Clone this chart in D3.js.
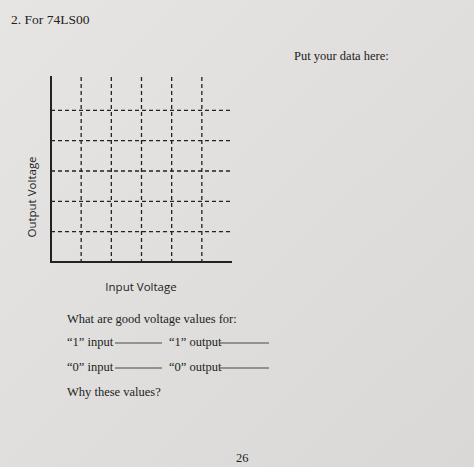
<!DOCTYPE html>
<html>
<head>
<meta charset="utf-8">
<script src="https://d3js.org/d3.v7.min.js"></script>
<style>body{margin:0;background:#e2e1df}</style>
</head>
<body>
<div id="page"></div>
<script>
// grid line positions (volts) on each axis
var xGrid = [1, 2, 3, 4, 5];
var yGrid = [1, 2, 3, 4, 5];
var xDomain = [0, 6];
var yDomain = [0, 6];

var width = 474, height = 467;
var svg = d3.select("#page").append("svg").attr("width", width).attr("height", height);

var grad = svg.append("defs").append("linearGradient").attr("id", "paper")
  .attr("x1", 0).attr("y1", 0).attr("x2", 1).attr("y2", 1);
grad.append("stop").attr("offset", "0").attr("stop-color", "#e6e5e3");
grad.append("stop").attr("offset", "1").attr("stop-color", "#d9d8d6");
svg.append("rect").attr("width", width).attr("height", height).attr("fill", "url(#paper)");

var x = d3.scaleLinear().domain(xDomain).range([51, 232]);
var y = d3.scaleLinear().domain(yDomain).range([262, 80]);

var ink = "#222";
// dashed grid
svg.selectAll(".vg").data(xGrid).enter().append("line")
  .attr("x1", d => x(d)).attr("x2", d => x(d))
  .attr("y1", 77).attr("y2", y(0))
  .attr("stroke", ink).attr("stroke-width", 1.3).attr("stroke-dasharray", "4,3");
svg.selectAll(".hg").data(yGrid).enter().append("line")
  .attr("x1", x(0)).attr("x2", x(6))
  .attr("y1", d => y(d)).attr("y2", d => y(d))
  .attr("stroke", ink).attr("stroke-width", 1.3).attr("stroke-dasharray", "4,3");
// axes
svg.append("path").attr("d", "M" + x(0) + ",76V" + y(0) + "H" + x(6))
  .attr("fill", "none").attr("stroke", ink).attr("stroke-width", 2);

svg.append("text").attr("x", 141).attr("y", 291).attr("text-anchor", "middle")
  .attr("font-family", "Open Sans").attr("font-size", 11.5).attr("fill", ink).text("Input Voltage");
svg.append("text").attr("transform", "translate(36,197) rotate(-90)").attr("text-anchor", "middle")
  .attr("font-family", "Open Sans").attr("font-size", 11.5).attr("fill", ink).text("Output Voltage");

var serif = "Liberation Serif";
function t(xp, yp, s, size) {
  svg.append("text").attr("x", xp).attr("y", yp).attr("font-family", serif)
    .attr("font-size", size || 12.5).attr("fill", ink).text(s);
}
t(11, 24, "2. For 74LS00", 13.5);
t(294, 60, "Put your data here:");
t(67, 323, "What are good voltage values for:");
t(67, 346, "\u201C1\u201D input");
t(169, 346, "\u201C1\u201D output");
t(67, 371, "\u201C0\u201D input");
t(169, 371, "\u201C0\u201D output");
t(67, 396, "Why these values?");
t(236, 462, "26");
[[115, 343, 162], [220, 343, 269], [115, 368, 162], [220, 368, 269]].forEach(function(l) {
  svg.append("line").attr("x1", l[0]).attr("x2", l[2]).attr("y1", l[1]).attr("y2", l[1])
    .attr("stroke", ink).attr("stroke-width", 0.8);
});
</script>
</body>
</html>
